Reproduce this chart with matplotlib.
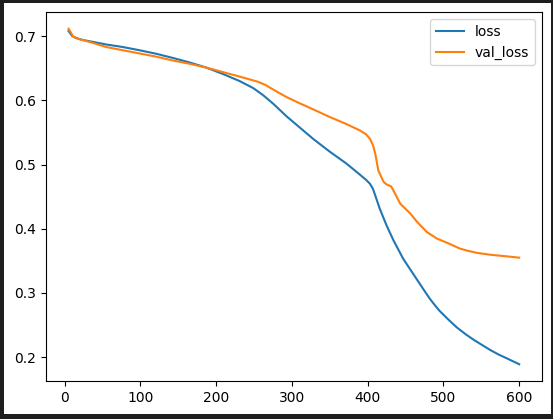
import matplotlib
matplotlib.use('Agg')
import matplotlib.pyplot as plt
from matplotlib.patches import Rectangle

# Values (epoch -> loss)
loss_epochs = [5, 10, 15, 24, 33, 55, 77, 99, 121, 143, 165, 187, 209, 231,
               249, 262, 275, 293, 311, 328, 350, 372, 390, 398, 403, 407,
               416, 425, 434, 447, 456, 465, 474, 482, 490, 495, 507, 518,
               529, 540, 551, 562, 573, 584, 600]
loss = [0.708, 0.700, 0.697, 0.694, 0.692, 0.687, 0.683, 0.678, 0.6725, 0.666,
        0.659, 0.651, 0.641, 0.630, 0.619, 0.608, 0.595, 0.575, 0.557, 0.540,
        0.520, 0.5015, 0.484, 0.476, 0.470, 0.462, 0.431, 0.405, 0.382,
        0.353, 0.337, 0.321, 0.305, 0.291, 0.279, 0.272, 0.258, 0.246,
        0.236, 0.227, 0.219, 0.211, 0.204, 0.198, 0.189]

val_epochs = [5, 8, 11, 20, 33, 55, 77, 99, 121, 143, 165, 187, 209, 231, 249,
              255, 265, 275, 284, 293, 311, 328, 350, 372, 390, 398, 403, 407,
              410, 414, 419, 421, 425, 427, 431, 436, 443, 449, 456, 465, 469,
              478, 491, 509, 522, 533, 544, 562, 584, 600]
val_loss = [0.7115, 0.706, 0.6995, 0.695, 0.691, 0.683, 0.678, 0.673, 0.668,
            0.662, 0.657, 0.651, 0.644, 0.637, 0.631, 0.629, 0.624, 0.617,
            0.611, 0.605, 0.595, 0.586, 0.574, 0.563, 0.553, 0.547, 0.540,
            0.530, 0.517, 0.491, 0.478, 0.473, 0.469, 0.468, 0.466, 0.455,
            0.439, 0.432, 0.424, 0.411, 0.406, 0.395, 0.385, 0.376, 0.369,
            0.3655, 0.3625, 0.3595, 0.357, 0.355]

fig = plt.figure(figsize=(5.53, 4.19), dpi=100, facecolor='#1e1e1e')

ax = fig.add_axes([46 / 553, 38 / 419, 495.7 / 553, 369 / 419])
ax.plot(loss_epochs, loss, label='loss')
ax.plot(val_epochs, val_loss, label='val_loss')
ax.legend(loc='upper right')

# white figure area inside the dark notebook frame, drawn behind the axes
frame = Rectangle((4 / 553, 5 / 419), 547 / 553, 411 / 419,
                  transform=fig.transFigure, facecolor='white',
                  edgecolor='none', zorder=-10)
fig.add_artist(frame)

fig.savefig('out.png', dpi=100, facecolor=fig.get_facecolor())
